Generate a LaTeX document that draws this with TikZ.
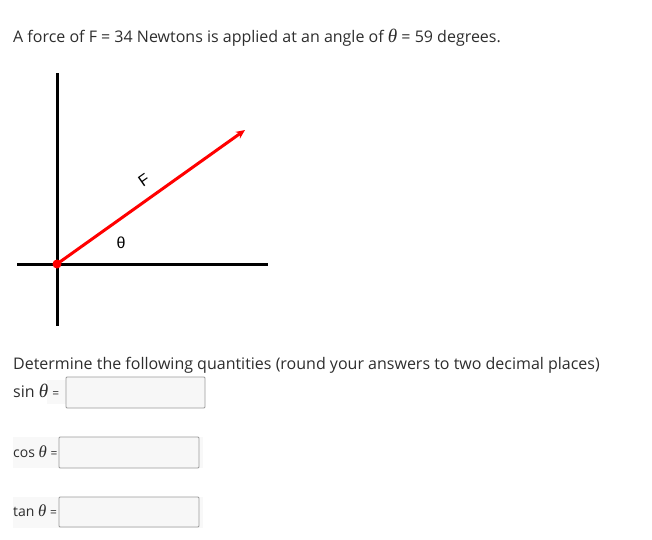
\documentclass[tikz,border=0pt]{standalone}
\usepackage{fontspec}
\setmainfont{Open Sans}
\newfontfamily\thfont{Liberation Serif}
\newfontfamily\arfont{Liberation Sans}
\usetikzlibrary{arrows.meta}
\definecolor{txt}{HTML}{2D2D2D}
\definecolor{boxfill}{HTML}{F7F7F7}
\definecolor{boxline}{HTML}{9A9A9A}
\definecolor{lblbg}{HTML}{F8F8F8}
\newcommand{\mytheta}{{\thfont\itshape\scalebox{1.2}{θ}}}
\tikzset{
  txtnode/.style={anchor=base west, inner sep=0pt, text=txt, font=\fontsize{16}{19}\selectfont},
  smallnode/.style={anchor=base west, inner sep=0pt, text=txt, font=\fontsize{14}{17}\selectfont},
  inbox/.style={draw=boxline, fill=boxfill, line width=0.8pt, rounded corners=1pt},
  axis/.style={line width=3pt, black},
  force/.style={line width=3pt, red, -{Stealth[length=9pt,width=8pt]}},
  lbl/.style={font=\arfont\fontsize{16}{18}\selectfont, inner sep=0pt},
}
\begin{document}
\begin{tikzpicture}[x=1pt,y=-1pt]
\useasboundingbox (0,0) rectangle (652,539);
\node[txtnode] (title) at (13,42) {A force of F = 34 Newtons is applied at an angle of \mytheta\ = 59 degrees.};
% axes
\coordinate (o) at (57,264);
\coordinate (vt) at (57,73);
\coordinate (vb) at (57,326);
\coordinate (hl) at (17,264);
\coordinate (hr) at (268,264);
\coordinate (tip) at (245,130);
\draw[axis] (vt) -- (vb);
\draw[axis] (hl) -- (hr);
\draw[force] (o) -- (tip);
\fill[red] (o) circle (4.5);
\node[lbl, rotate=35] (F) at (144,180) {F};
\node[lbl] (theta) at (121,243) {θ};
% questions
\node[txtnode] (det) at (13,369) {Determine the following quantities (round your answers to two decimal places)};
\fill[lblbg] (47,380) rectangle (66,404);
\node[txtnode] (sin) at (13,397) {sin \mytheta\ {\fontsize{12}{14}\selectfont =}};
\draw[inbox] (66,377) rectangle (205,408);
\fill[lblbg] (13,437) rectangle (203,468);
\node[smallnode] (cos) at (13,457) {cos \mytheta\ {\fontsize{12}{14}\selectfont =}};
\draw[inbox] (59,437) rectangle (199,468);
\fill[lblbg] (13,497) rectangle (203,528);
\node[smallnode] (tan) at (13,516) {tan \mytheta\ {\fontsize{12}{14}\selectfont =}};
\draw[inbox] (59,497) rectangle (199,527);
\end{tikzpicture}
\end{document}
